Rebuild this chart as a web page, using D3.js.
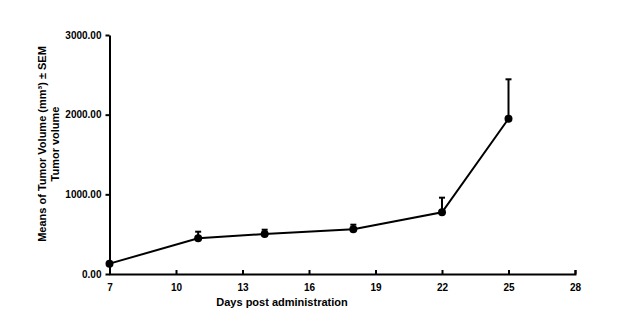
<!DOCTYPE html>
<html><head><meta charset="utf-8">
<script src="https://cdn.jsdelivr.net/npm/d3@7"></script>
<style>body{margin:0;background:#fff;} text{font-family:Arial,"Liberation Sans",sans-serif;font-weight:bold;}</style>
</head><body>
<svg id="c" width="626" height="324"></svg>
<script>
const days = [7, 11, 14, 18, 22, 25];
const means = [130, 448, 502, 561, 774, 1949];
const semUpper = [130, 531, 556, 619, 958, 2444];
const xTicks = [7, 10, 13, 16, 19, 22, 25, 28];
const yTicks = [0, 1000, 2000, 3000];
const yTitle1 = "Means of Tumor Volume (mm³) ± SEM";
const yTitle2 = "Tumor volume";
const xTitle = "Days post administration";

const svg = d3.select("#c");
const x = d3.scaleLinear().domain([7, 28]).range([109.5, 575]);
const y = d3.scaleLinear().domain([0, 3000]).range([274, 35]);

const xAxis = svg.append("g").attr("transform", "translate(0,274)")
  .call(d3.axisBottom(x).tickValues(xTicks).tickSize(-4).tickPadding(10).tickFormat(d3.format("d")));
xAxis.select(".domain").attr("stroke-width", 2);
xAxis.selectAll(".tick line").attr("stroke-width", 2);
xAxis.selectAll("text").attr("font-size", 10).attr("fill", "#000");

const yAxis = svg.append("g").attr("transform", "translate(109.5,0)")
  .call(d3.axisLeft(y).tickValues(yTicks).tickSize(4).tickSizeOuter(0).tickPadding(4).tickFormat(d3.format(".2f")));
yAxis.select(".domain").attr("stroke-width", 2);
yAxis.selectAll(".tick line").attr("stroke-width", 2);
yAxis.selectAll("text").attr("font-size", 10).attr("fill", "#000");

// error bars
const eb = svg.append("g");
days.forEach((d, i) => {
  if (semUpper[i] - means[i] < 20) return;
  eb.append("line").attr("x1", x(d)).attr("x2", x(d)).attr("y1", y(means[i])).attr("y2", y(semUpper[i]))
    .attr("stroke", "#000").attr("stroke-width", 2);
  eb.append("line").attr("x1", x(d) - 3).attr("x2", x(d) + 3).attr("y1", y(semUpper[i])).attr("y2", y(semUpper[i]))
    .attr("stroke", "#000").attr("stroke-width", 2);
});

const line = d3.line().x((d, i) => x(days[i])).y(d => y(d));
svg.append("path").datum(means).attr("d", line).attr("fill", "none").attr("stroke", "#000").attr("stroke-width", 2);
svg.append("g").selectAll("circle").data(means).join("circle")
  .attr("cx", (d, i) => x(days[i])).attr("cy", d => y(d)).attr("r", 4).attr("fill", "#000");

svg.append("text").attr("transform", "translate(46,144) rotate(-90)").attr("text-anchor", "middle")
  .attr("font-size", 11).text(yTitle1);
svg.append("text").attr("transform", "translate(59,144) rotate(-90)").attr("text-anchor", "middle")
  .attr("font-size", 11).text(yTitle2);
svg.append("text").attr("x", 282).attr("y", 306).attr("text-anchor", "middle").attr("font-size", 11).text(xTitle);
</script>
</body></html>
